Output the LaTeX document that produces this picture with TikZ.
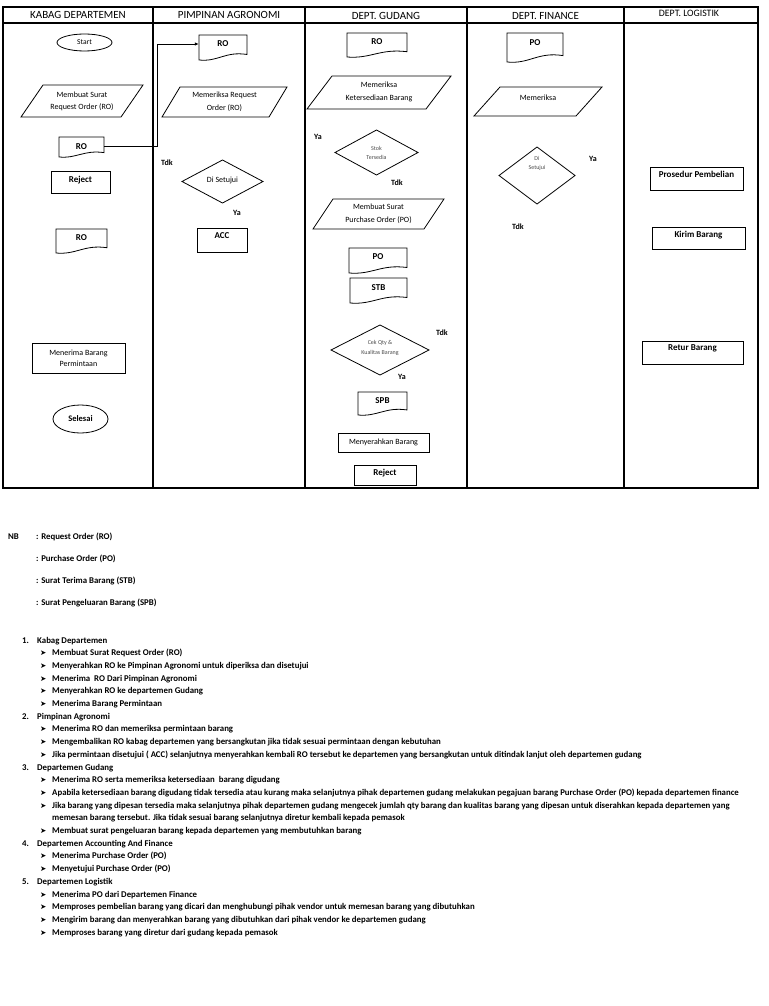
\documentclass[tikz,border=0pt]{standalone}
\usepackage{fontspec}
\setmainfont{Carlito}
\newfontfamily\dejavu{DejaVu Sans}
\usetikzlibrary{arrows.meta,shapes.geometric,calc}

\tikzset{
 ln/.style={draw=black, line width=0.8pt},
 tbl/.style={draw=black, line width=1.1pt},
 hdr/.style={font=\fontsize{11}{12}\selectfont, inner sep=0},
 boldtxt/.style={font=\fontsize{9}{11}\selectfont\bfseries, inner sep=0, align=center},
 regtxt/.style={font=\fontsize{8}{12}\selectfont, inner sep=0, align=center},
 graytxt/.style={font=\fontsize{6}{9}\selectfont, text=black!70, inner sep=0, align=center},
 lbl/.style={font=\fontsize{8}{10}\selectfont\bfseries, inner sep=0},
 lst/.style={font=\fontsize{8.8}{10}\selectfont\bfseries, anchor=base west, inner sep=0},
 bul/.style={font=\fontsize{7.5}{8}\selectfont\dejavu, anchor=base west, inner sep=0},
}

% rectangle box: name cx cy w h dy style text
\newcommand\rbox[8]{%
 \draw[ln] ({#2-#4/2},{#3-#5/2}) rectangle ({#2+#4/2},{#3+#5/2});
 \node[#7, minimum width=#4pt] (#1) at (#2,{#3+#6}) {#8};}
% document box
\newcommand\docbox[8]{%
 \draw[ln] ({#2-#4/2},{#3-#5/2}) -- ({#2+#4/2},{#3-#5/2}) -- ({#2+#4/2},{#3+0.28*#5})
   .. controls ({#2+0.05*#4},{#3+0.14*#5}) and ({#2-0.1*#4},{#3+0.58*#5}) .. ({#2-#4/2},{#3+#5/2}) -- cycle;
 \node[#7, minimum width=#4pt] (#1) at (#2,{#3+#6}) {#8};}
% diamond box
\newcommand\dbox[8]{%
 \draw[ln] (#2,{#3-#5/2}) -- ({#2+#4/2},#3) -- (#2,{#3+#5/2}) -- ({#2-#4/2},#3) -- cycle;
 \node[#7, minimum width=#4pt] (#1) at (#2,{#3+#6}) {#8};}
% parallelogram: name cx cy w h slant dy style text
\newcommand\pbox[9]{%
 \draw[ln] ({#2-#4/2+#6},{#3-#5/2}) -- ({#2+#4/2},{#3-#5/2}) -- ({#2+#4/2-#6},{#3+#5/2}) -- ({#2-#4/2},{#3+#5/2}) -- cycle;
 \node[#8, minimum width=#4pt] (#1) at (#2,{#3+#7}) {#9};}

\begin{document}
\begin{tikzpicture}[x=1pt,y=-1pt]
\useasboundingbox (0,0) rectangle (768,1006);
\fill[white] (0,0) rectangle (768,1006);

% table
\draw[tbl] (3,7) rectangle (758,488);
\draw[tbl] (3,23) -- (758,23);
\foreach \cx in {153,305,467,624} \draw[tbl] (\cx,7) -- (\cx,488);

\node[hdr] (h1) at (78,15) {KABAG DEPARTEMEN};
\node[hdr] (h2) at (229,15) {PIMPINAN AGRONOMI};
\node[hdr] (h3) at (386,15.5) {DEPT. GUDANG};
\node[hdr] (h4) at (545.5,15.5) {DEPT. FINANCE};
\node[hdr, font=\fontsize{9.8}{11}\selectfont] (h5) at (689,13) {DEPT. LOGISTIK};

% column 1
\node[ln, ellipse, minimum width=55pt, minimum height=17pt, inner sep=0, font=\fontsize{7.5}{9}\selectfont] (start) at (84.5,42.5) {Start};
\pbox{p1}{82}{101}{122}{32}{22}{0}{regtxt}{Membuat Surat\\Request Order (RO)}
\docbox{ro1}{81.5}{147}{45}{20}{-0.5}{boldtxt}{RO}
\rbox{rej1}{80.5}{182}{59}{22}{-2}{boldtxt}{Reject}
\docbox{ro2}{81.5}{241}{51}{24}{-3}{boldtxt}{RO}
\rbox{terima}{78.5}{358}{93}{30}{0}{regtxt, font=\fontsize{8}{11}\selectfont}{Menerima Barang\\Permintaan}
\node[ln, ellipse, minimum width=55pt, minimum height=28pt, inner sep=0, font=\fontsize{8.5}{10}\selectfont\bfseries] (selesai) at (80.5,419) {Selesai};

% column 2
\docbox{ro3}{223}{47.5}{48}{25}{-3.5}{boldtxt}{RO}
\pbox{p2}{224.5}{102}{125}{30}{18}{0}{regtxt, font=\fontsize{8}{13}\selectfont}{Memeriksa Request\\Order (RO)}
\dbox{d1}{222.5}{181.5}{81}{43}{-1.5}{regtxt}{Di Setujui}
\rbox{acc}{222}{240}{50}{24}{-4}{boldtxt}{ACC}
\node[lbl] (tdk1) at (167,163) {Tdk};
\node[lbl] (ya1) at (237,213) {Ya};

% column 3
\docbox{ro4}{377}{45}{60}{24}{-3}{boldtxt}{RO}
\pbox{p3}{379}{92.5}{144}{33}{25}{-1}{regtxt, font=\fontsize{8}{13}\selectfont}{Memeriksa\\Ketersediaan Barang}
\dbox{d2}{376.5}{152.5}{83}{45}{0}{graytxt}{Stok\\Tersedia}
\node[lbl] (ya2) at (318,137) {Ya};
\node[lbl] (tdk2) at (397,183) {Tdk};
\pbox{p4}{378.5}{214}{131}{30}{20}{0}{regtxt, font=\fontsize{8}{13}\selectfont}{Membuat Surat\\Purchase Order (PO)}
\docbox{po1}{378}{260.5}{58}{25}{-3.5}{boldtxt}{PO}
\docbox{stb}{378.5}{290.5}{57}{25}{-2.5}{boldtxt}{STB}
\dbox{d3}{380}{350}{98}{50}{-2}{graytxt, font=\fontsize{6}{10}\selectfont}{Cek Qty \&\\Kualitas Barang}
\node[lbl] (tdk3) at (442,333) {Tdk};
\node[lbl] (ya3) at (402,377) {Ya};
\docbox{spb}{382.5}{403.5}{49}{23}{-2.5}{boldtxt}{SPB}
\rbox{serah}{383.5}{442.5}{91}{19}{0}{regtxt}{Menyerahkan Barang}
\rbox{rej2}{385}{475}{62}{20}{-2}{boldtxt}{Reject}

% column 4
\docbox{po2}{535}{47.5}{56}{29}{-4.5}{boldtxt}{PO}
\pbox{p5}{538}{101.5}{128}{29}{26}{-3.5}{regtxt}{Memeriksa}
\dbox{d4}{537}{175.5}{76}{57}{-12}{graytxt}{Di\\Setujui}
\node[lbl] (ya4) at (593,159) {Ya};
\node[lbl] (tdk4) at (518,227) {Tdk};

% column 5
\rbox{prosedur}{696.5}{178.5}{93}{23}{-4}{boldtxt}{Prosedur Pembelian}
\rbox{kirim}{698.5}{238}{93}{22}{-3}{boldtxt}{Kirim Barang}
\rbox{retur}{692.5}{352.5}{101}{23}{-4}{boldtxt}{Retur Barang}

% connector
\draw[line width=0.8pt, -{Latex[length=4pt,width=3.5pt]}] (ro1.east) -- ++(53,0) |- (ro3.west);

% notes
\node[lst] (nb) at (8,539) {NB};
\node[lst] (nb1) at (36,539) {: Request Order (RO)};
\node[lst] (nb2) at (36,561) {: Purchase Order (PO)};
\node[lst] (nb3) at (36,583) {: Surat Terima Barang (STB)};
\node[lst] (nb4) at (36,605) {: Surat Pengeluaran Barang (SPB)};

\newcommand\numline[4]{%
 \node[lst] (#1n) at (22,{643+12.7*#2}) {#3};
 \node[lst] (#1) at (37,{643+12.7*#2}) {#4};}
\newcommand\bulline[3]{%
 \node[bul] (#1b) at (40,{643+12.7*#2}) {➤};
 \node[lst] (#1) at (52,{643+12.7*#2}) {#3};}

\numline{k1}{0}{1.}{Kabag Departemen}
\bulline{k1a}{1}{Membuat Surat Request Order (RO)}
\bulline{k1b}{2}{Menyerahkan RO ke Pimpinan Agronomi untuk diperiksa dan disetujui}
\bulline{k1c}{3}{Menerima\ \ RO Dari Pimpinan Agronomi}
\bulline{k1d}{4}{Menyerahkan RO ke departemen Gudang}
\bulline{k1e}{5}{Menerima Barang Permintaan}
\numline{k2}{6}{2.}{Pimpinan Agronomi}
\bulline{k2a}{7}{Menerima RO dan memeriksa permintaan barang}
\bulline{k2b}{8}{Mengembalikan RO kabag departemen yang bersangkutan jika tidak sesuai permintaan dengan kebutuhan}
\bulline{k2c}{9}{Jika permintaan disetujui ( ACC) selanjutnya menyerahkan kembali RO tersebut ke departemen yang bersangkutan untuk ditindak lanjut oleh departemen gudang}
\numline{k3}{10}{3.}{Departemen Gudang}
\bulline{k3a}{11}{Menerima RO serta memeriksa ketersediaan\ \ barang digudang}
\bulline{k3b}{12}{Apabila ketersediaan barang digudang tidak tersedia atau kurang maka selanjutnya pihak departemen gudang melakukan pegajuan barang Purchase Order (PO) kepada departemen finance}
\bulline{k3c}{13}{Jika barang yang dipesan tersedia maka selanjutnya pihak departemen gudang mengecek jumlah qty barang dan kualitas barang yang dipesan untuk diserahkan kepada departemen yang}
\node[lst] (k3cc) at (52,{643+12.7*14}) {memesan barang tersebut. Jika tidak sesuai barang selanjutnya diretur kembali kepada pemasok};
\bulline{k3d}{15}{Membuat surat pengeluaran barang kepada departemen yang membutuhkan barang}
\numline{k4}{16}{4.}{Departemen Accounting And Finance}
\bulline{k4a}{17}{Menerima Purchase Order (PO)}
\bulline{k4b}{18}{Menyetujui Purchase Order (PO)}
\numline{k5}{19}{5.}{Departemen Logistik}
\bulline{k5a}{20}{Menerima PO dari Departemen Finance}
\bulline{k5b}{21}{Memproses pembelian barang yang dicari dan menghubungi pihak vendor untuk memesan barang yang dibutuhkan}
\bulline{k5c}{22}{Mengirim barang dan menyerahkan barang yang dibutuhkan dari pihak vendor ke departemen gudang}
\bulline{k5d}{23}{Memproses barang yang diretur dari gudang kepada pemasok}
\end{tikzpicture}
\end{document}
